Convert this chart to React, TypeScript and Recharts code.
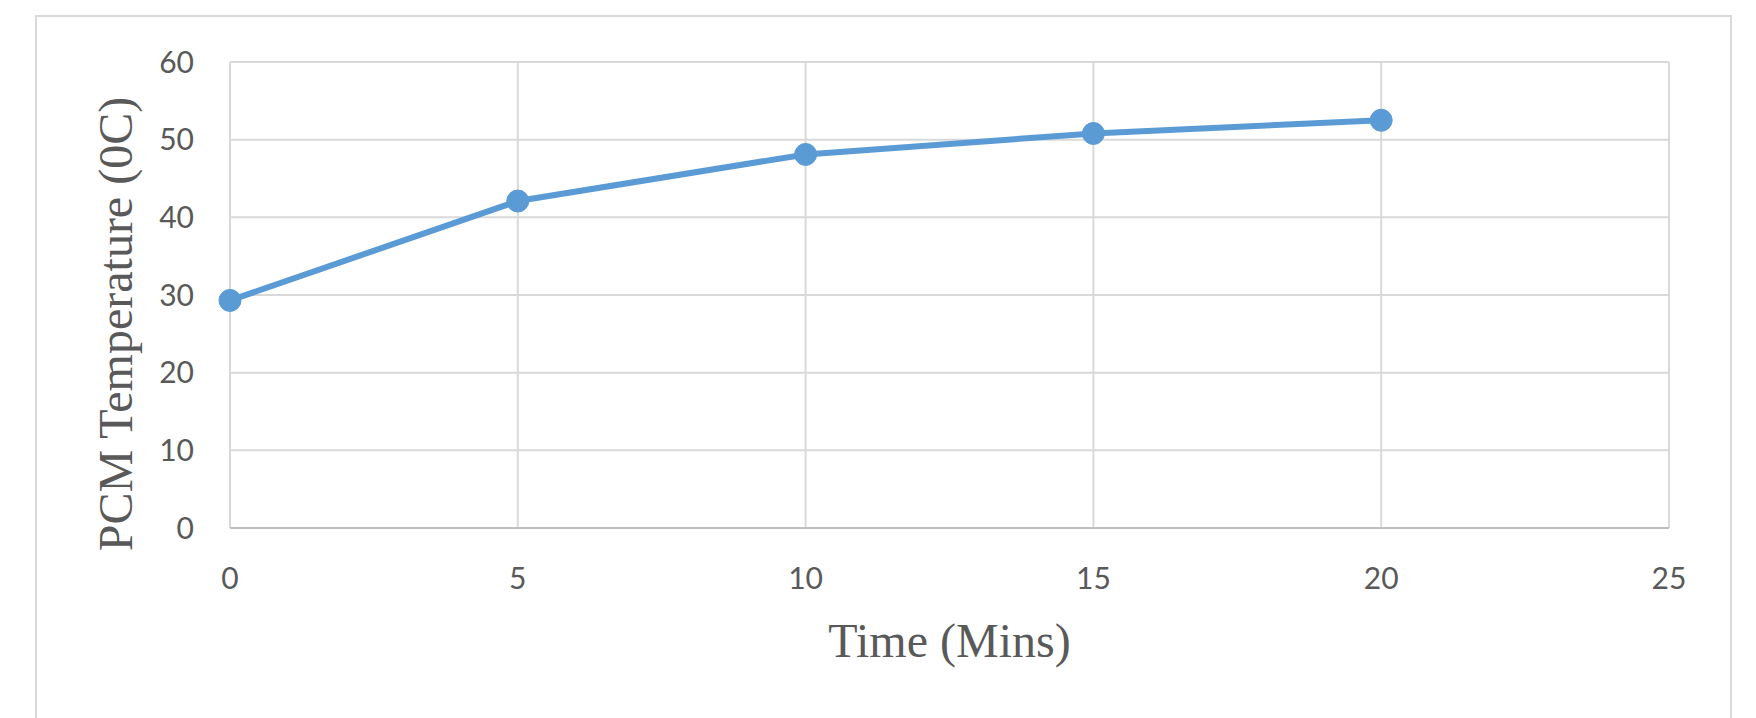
import { LineChart, Line, XAxis, YAxis, CartesianGrid, Label } from 'recharts'

const times = [0, 5, 10, 15, 20]
const temps = [29.3, 42.1, 48.1, 50.8, 52.5]
const xTicks = [0, 5, 10, 15, 20, 25]
const yTicks = [0, 10, 20, 30, 40, 50, 60]

const data = times.map((t, i) => ({ time: t, temp: temps[i] }))

const tickStyle = { fill: '#595959', fontSize: 30, fontFamily: 'Lato, "Open Sans", sans-serif' }
const titleFont = '"Liberation Serif", "Times New Roman", serif'

function YTitle({ viewBox }: any) {
  const cx = viewBox.x + viewBox.width / 2
  const cy = viewBox.y + viewBox.height / 2 + 29
  return (
    <text
      x={cx}
      y={cy}
      transform={`rotate(-90 ${cx} ${cy})`}
      textAnchor="middle"
      dy="0.35em"
      fill="#595959"
      fontSize={48}
      fontFamily={titleFont}
    >
      PCM Temperature (0C)
    </text>
  )
}

export default function App() {
  return (
    <div style={{ position: 'absolute', left: 0, top: 0, width: 1756, height: 718, overflow: 'hidden', background: '#fff' }}>
      <div
        style={{
          position: 'absolute',
          left: 35,
          top: 15,
          width: 1697,
          height: 800,
          border: '2px solid #D9D9D9',
          boxSizing: 'border-box',
        }}
      />
      <div style={{ position: 'absolute', left: 0, top: 0 }}>
        <LineChart width={1756} height={718} data={data} margin={{ top: 62, right: 87, bottom: 0, left: 0 }}>
          <CartesianGrid stroke="#D9D9D9" strokeWidth={2} />
          <XAxis
            dataKey="time"
            type="number"
            domain={[0, 25]}
            ticks={xTicks}
            tickSize={0}
            tickMargin={40}
            tickLine={false}
            axisLine={{ stroke: '#BFBFBF', strokeWidth: 2 }}
            tick={tickStyle}
            height={190}
          >
            <Label
              value="Time (Mins)"
              position="insideBottom"
              offset={61}
              fill="#595959"
              fontSize={48}
              fontFamily={titleFont}
            />
          </XAxis>
          <YAxis
            type="number"
            domain={[0, 60]}
            ticks={yTicks}
            tickSize={0}
            tickMargin={36}
            tickLine={false}
            axisLine={false}
            tick={tickStyle}
            width={230}
          >
            <Label content={YTitle} />
          </YAxis>
          <Line
            dataKey="temp"
            stroke="#5B9BD5"
            strokeWidth={6}
            dot={{ r: 11, fill: '#5B9BD5', stroke: '#5B9BD5', strokeWidth: 1 }}
            activeDot={false}
            isAnimationActive={false}
          />
        </LineChart>
      </div>
    </div>
  )
}
